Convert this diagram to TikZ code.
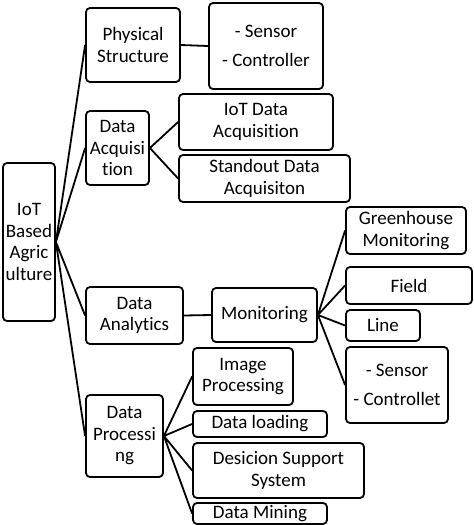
\documentclass[tikz,border=0pt]{standalone}
\usepackage{fontspec}
\setmainfont{Carlito}[RawFeature=-liga]
\begin{document}
\begin{tikzpicture}[x=1pt,y=-1pt,line width=1.8pt,
		box/.style={draw,rounded corners=4pt,inner sep=0pt,align=center,
			font=\fontsize{19}{21.5}\selectfont}]
	\useasboundingbox (0,0) rectangle (474,525);

	\node[box,minimum width=52pt,minimum height=158pt] (root) at (29,242) {IoT\\Based\\Agric\\ulture};

	\node[box,minimum width=94pt,minimum height=74pt] (phys) at (133,45) {Physical\\Structure};
	\node[box,minimum width=63pt,minimum height=74pt] (acq) at (117.5,148) {Data\\Acquisi\\tion};
	\node[box,minimum width=97pt,minimum height=57pt] (analyt) at (134.5,315.5) {Data\\Analytics};
	\node[box,minimum width=77pt,minimum height=82pt] (proc) at (124.5,436) {Data\\Processi\\ng};

	\node[box,minimum width=114pt,minimum height=86pt] (physparts) at (266,46) {- Sensor\\[8pt]- Controller};
	\node[box,minimum width=154pt,minimum height=56pt] (iotacq) at (256,122) {IoT Data\\Acquisition};
	\node[box,minimum width=171pt,minimum height=47pt] (standacq) at (264.5,178.5) {Standout Data\\Acquisiton};

	\node[box,minimum width=105pt,minimum height=54pt] (monit) at (264.5,315) {Monitoring};
	\node[box,minimum width=120pt,minimum height=47pt] (green) at (406,230.5) {Greenhouse\\Monitoring};
	\node[box,minimum width=126pt,minimum height=37pt] (field) at (409,285.5) {Field};
	\node[box,minimum width=74pt,minimum height=31pt] (line) at (383,325.5) {Line};
	\node[box,minimum width=102pt,minimum height=76pt] (monparts) at (397,385) {- Sensor\\[8pt]- Controllet};

	\node[box,minimum width=100pt,minimum height=57pt] (image) at (243,376.5) {Image\\Processing};
	\node[box,minimum width=134pt,minimum height=26pt] (load) at (260,424) {Data loading};
	\node[box,minimum width=171pt,minimum height=55pt] (dss) at (278.5,470.5) {Desicion Support\\System};
	\node[box,minimum width=134pt,minimum height=21pt] (mining) at (260,513.5) {Data Mining};

	\draw (root.east) -- (phys.west) (root.east) -- (acq.west)
		(root.east) -- (analyt.west) (root.east) -- (proc.west);
	\draw (phys.east) -- (physparts.west);
	\draw (acq.east) -- (iotacq.west) (acq.east) -- (standacq.west);
	\draw (analyt.east) -- (monit.west);
	\draw (monit.east) -- (green.west) (monit.east) -- (field.west)
		(monit.east) -- (line.west) (monit.east) -- (monparts.west);
	\draw (proc.east) -- (image.west) (proc.east) -- (load.west)
		(proc.east) -- (dss.west) (proc.east) -- (mining.west);
\end{tikzpicture}
\end{document}
